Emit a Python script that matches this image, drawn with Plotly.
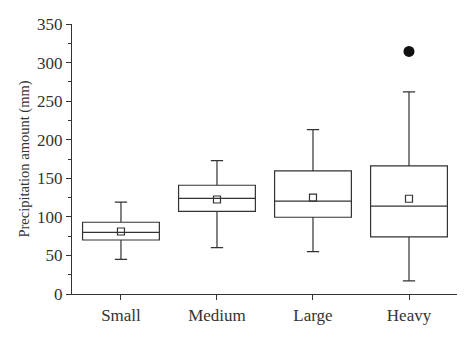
import plotly.graph_objects as go

categories = ["Small", "Medium", "Large", "Heavy"]
q1 = [70, 107, 99.5, 74]
median = [80, 124, 120.5, 114]
q3 = [93, 141, 159.5, 166]
lower = [45, 60, 55, 17]
upper = [119, 173, 213, 262]
means = [81, 122.5, 125, 123.5]
outlier_cat = ["Heavy"]
outlier_val = [314.5]

fig = go.Figure()
fig.add_trace(go.Box(
    x=categories, q1=q1, median=median, q3=q3,
    lowerfence=lower, upperfence=upper,
    width=0.8, whiskerwidth=0.16,
    fillcolor="white", line=dict(color="#333333", width=1.2),
    boxpoints=False, showlegend=False, hoverinfo="skip",
))
fig.add_trace(go.Scatter(
    x=categories, y=means, mode="markers",
    marker=dict(symbol="square-open", size=7, color="#333333", line=dict(width=1.2)),
    showlegend=False,
))
fig.add_trace(go.Scatter(
    x=outlier_cat, y=outlier_val, mode="markers",
    marker=dict(symbol="circle", size=11, color="#111111"),
    showlegend=False,
))

font_family = "Liberation Serif"
fig.update_layout(
    width=474, height=339,
    margin=dict(l=72, r=17, t=24, b=45),
    plot_bgcolor="white", paper_bgcolor="white",
    font=dict(family=font_family, size=17, color="#333333"),
)
fig.update_xaxes(
    type="category", range=[-0.51, 3.5],
    showline=True, linecolor="#333333", linewidth=1.2,
    ticks="outside", ticklen=5, tickcolor="#333333",
    showgrid=False, zeroline=False,
    tickfont=dict(family=font_family, size=17),
)
fig.update_yaxes(
    range=[0, 350], dtick=50,
    showline=True, linecolor="#333333", linewidth=1.2,
    ticks="outside", ticklen=5, tickcolor="#333333",
    minor=dict(dtick=25, ticks="outside", ticklen=3, tickcolor="#333333"),
    showgrid=False, zeroline=False,
    title=dict(text="Precipitation amount (mm)", font=dict(family=font_family, size=14.5), standoff=3),
    tickfont=dict(family=font_family, size=17),
)
fig.write_html("out.html")
